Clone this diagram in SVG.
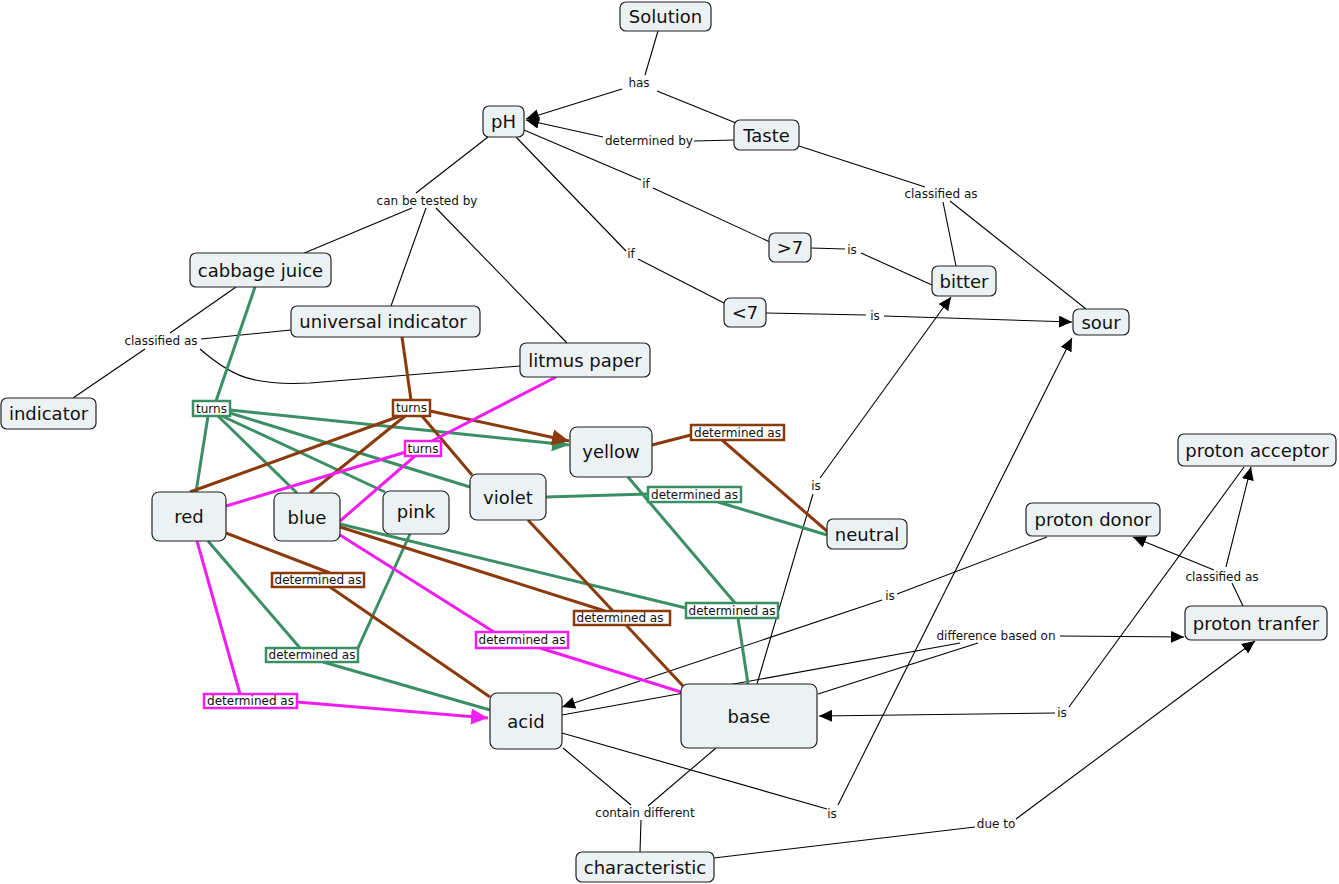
<svg xmlns="http://www.w3.org/2000/svg" width="1339" height="884" viewBox="0 0 1339 884">
<defs>
<style>
.n rect{fill:#ecf2f4;stroke:#222;stroke-width:1.2}
.n text{font-family:"DejaVu Sans",Verdana,sans-serif;font-size:18px;fill:#111;text-anchor:middle;dominant-baseline:central}
.lk{font-family:"DejaVu Sans",Verdana,sans-serif;font-size:12px;fill:#111;text-anchor:middle;dominant-baseline:central}
.k{fill:none;stroke:#000;stroke-width:1.1}
.g{fill:none;stroke:#3b8f65;stroke-width:3}
.b{fill:none;stroke:#8b3a0c;stroke-width:3}
.m{fill:none;stroke:#f01ef0;stroke-width:3}
.bx{fill:#fff;stroke-width:2.5}
</style>
<marker id="ak" markerUnits="userSpaceOnUse" markerWidth="14" markerHeight="12" refX="13" refY="6" orient="auto"><path d="M0,0 L13,6 L0,12 z" fill="#000"/></marker>
<marker id="ag" markerUnits="userSpaceOnUse" markerWidth="18" markerHeight="16" refX="17" refY="8" orient="auto"><path d="M0,0 L17,8 L0,16 z" fill="#3b8f65"/></marker>
<marker id="ab" markerUnits="userSpaceOnUse" markerWidth="18" markerHeight="16" refX="17" refY="8" orient="auto"><path d="M0,0 L17,8 L0,16 z" fill="#8b3a0c"/></marker>
<marker id="am" markerUnits="userSpaceOnUse" markerWidth="18" markerHeight="16" refX="17" refY="8" orient="auto"><path d="M0,0 L17,8 L0,16 z" fill="#f01ef0"/></marker>
</defs>
<rect width="1339" height="884" fill="#fff"/>
<g id="connectors">
<path class="k" d="M658,31 L645,75"/>
<path class="k" d="M622,89 L526,119" marker-end="url(#ak)"/>
<path class="k" d="M657,91 L736,123"/>
<path class="k" d="M735,140 L694,141"/>
<path class="k" d="M603,137 L526,120" marker-end="url(#ak)"/>
<path class="k" d="M524,130 L641,180"/>
<path class="k" d="M653,188 L770,242"/>
<path class="k" d="M516,137 L626,251"/>
<path class="k" d="M638,259 L724,303"/>
<path class="k" d="M488,137 L416,193"/>
<path class="k" d="M412,208 L302,254"/>
<path class="k" d="M426,208 L391,306"/>
<path class="k" d="M436,208 L567,343"/>
<path class="k" d="M799,146 L925,187"/>
<path class="k" d="M943,202 L956,266"/>
<path class="k" d="M950,201 L1086,309"/>
<path class="k" d="M811,248 L845,249"/>
<path class="k" d="M861,253 L932,285"/>
<path class="k" d="M766,313 L866,315"/>
<path class="k" d="M884,316 L1072,322" marker-end="url(#ak)"/>
<path class="k" d="M236,287 L170,333"/>
<path class="k" d="M145,349 L73,398"/>
<path class="k" d="M291,330 L201,339"/>
<path class="k" d="M200,349 C230,375 250,386 310,383 L520,366"/>
<path class="k" d="M757,684 L813,494"/>
<path class="k" d="M820,478 L951,297" marker-end="url(#ak)"/>
<path class="k" d="M1047,537 L897,594"/>
<path class="k" d="M882,600 L562,707" marker-end="url(#ak)"/>
<path class="k" d="M562,715 L960,643"/>
<path class="k" d="M818,694 L978,643"/>
<path class="k" d="M1060,636 L1184,637" marker-end="url(#ak)"/>
<path class="k" d="M1243,606 L1232,583"/>
<path class="k" d="M1214,570 L1133,537" marker-end="url(#ak)"/>
<path class="k" d="M1226,567 L1251,467" marker-end="url(#ak)"/>
<path class="k" d="M1244,467 L1069,707"/>
<path class="k" d="M1055,713 L819,716" marker-end="url(#ak)"/>
<path class="k" d="M562,733 L827,809"/>
<path class="k" d="M838,805 L1072,338" marker-end="url(#ak)"/>
<path class="k" d="M563,748 L631,805"/>
<path class="k" d="M716,748 L648,806"/>
<path class="k" d="M641,820 L640,852"/>
<path class="k" d="M714,858 L975,827"/>
<path class="k" d="M1016,819 L1255,641" marker-end="url(#ak)"/>
<path class="g" d="M255,287 L216,401"/>
<path class="g" d="M208,416 L196,492"/>
<path class="g" d="M218,416 L297,493"/>
<path class="g" d="M222,416 L385,492"/>
<path class="g" d="M230,413 L470,487"/>
<path class="g" d="M230,410 L569,445" marker-end="url(#ag)"/>
<path class="g" d="M546,497 L648,494"/>
<path class="g" d="M718,502 L827,535"/>
<path class="g" d="M628,477 L735,603"/>
<path class="g" d="M340,524 L686,608"/>
<path class="g" d="M738,618 L748,684"/>
<path class="g" d="M410,534 L358,648"/>
<path class="g" d="M208,541 L300,648"/>
<path class="g" d="M323,662 L490,710"/>
<path class="b" d="M402,337 L411,400"/>
<path class="b" d="M400,416 L190,492"/>
<path class="b" d="M405,416 L310,493"/>
<path class="b" d="M422,416 L472,475"/>
<path class="b" d="M430,411 L569,441" marker-end="url(#ab)"/>
<path class="b" d="M652,445 L691,435"/>
<path class="b" d="M722,440 L828,532"/>
<path class="b" d="M226,533 L330,573"/>
<path class="b" d="M330,587 L490,697"/>
<path class="b" d="M340,527 L605,611"/>
<path class="b" d="M528,520 L683,686"/>
<path class="m" d="M556,377 L432,441"/>
<path class="m" d="M406,452 L226,506"/>
<path class="m" d="M415,456 L340,521"/>
<path class="m" d="M197,541 L240,694"/>
<path class="m" d="M297,702 L488,718" marker-end="url(#am)"/>
<path class="m" d="M340,535 L494,632"/>
<path class="m" d="M540,648 L681,692"/>
</g>
<g id="labels">
<text class="lk" x="639" y="83">has</text>
<text class="lk" x="649" y="141">determined by</text>
<text class="lk" x="646" y="184">if</text>
<text class="lk" x="631" y="254">if</text>
<text class="lk" x="427" y="201">can be tested by</text>
<text class="lk" x="941" y="194">classified as</text>
<text class="lk" x="852" y="250">is</text>
<text class="lk" x="875" y="316">is</text>
<text class="lk" x="161" y="341">classified as</text>
<text class="lk" x="816" y="486">is</text>
<text class="lk" x="890" y="596">is</text>
<text class="lk" x="996" y="636">difference based on</text>
<text class="lk" x="1222" y="577">classified as</text>
<text class="lk" x="1062" y="713">is</text>
<text class="lk" x="645" y="813">contain different</text>
<text class="lk" x="832" y="814">is</text>
<text class="lk" x="996" y="824">due to</text>
<g id="lb-turns-g"><rect class="bx" x="193" y="401" width="37" height="15" stroke="#3b8f65"/><text class="lk" x="211.5" y="408.5">turns</text></g>
<g id="lb-turns-b"><rect class="bx" x="393" y="400" width="37" height="16" stroke="#8b3a0c" stroke-width="3.5"/><text class="lk" x="411.5" y="408">turns</text></g>
<g id="lb-turns-m"><rect class="bx" x="405" y="441" width="36" height="15" stroke="#f01ef0"/><text class="lk" x="423" y="448.5">turns</text></g>
<g id="lb-det1"><rect class="bx" x="691" y="425" width="93" height="15" stroke="#8b3a0c"/><text class="lk" x="737.5" y="432.5">determined as</text></g>
<g id="lb-det2"><rect class="bx" x="648" y="487" width="93" height="15" stroke="#3b8f65"/><text class="lk" x="694.5" y="494.5">determined as</text></g>
<g id="lb-det3"><rect class="bx" x="272" y="573" width="92" height="14" stroke="#8b3a0c"/><text class="lk" x="318" y="580">determined as</text></g>
<g id="lb-det4"><rect class="bx" x="266" y="648" width="92" height="14" stroke="#3b8f65"/><text class="lk" x="312" y="655">determined as</text></g>
<g id="lb-det5"><rect class="bx" x="204" y="694" width="93" height="14" stroke="#f01ef0"/><text class="lk" x="250.5" y="701">determined as</text></g>
<g id="lb-det6"><rect class="bx" x="476" y="632" width="92" height="16" stroke="#f01ef0"/><text class="lk" x="522" y="640">determined as</text></g>
<g id="lb-det7"><rect class="bx" x="574" y="611" width="96" height="14" stroke="#8b3a0c"/><text class="lk" x="620" y="618">determined as</text></g>
<g id="lb-det8"><rect class="bx" x="686" y="603" width="92" height="15" stroke="#3b8f65"/><text class="lk" x="732" y="610.5">determined as</text></g>
</g>
<g id="n-solution" class="n"><rect x="620" y="2" width="91" height="29" rx="6"/><text x="665.5" y="16.5">Solution</text></g>
<g id="n-ph" class="n"><rect x="483" y="106" width="41" height="31" rx="6"/><text x="503.5" y="121.5">pH</text></g>
<g id="n-taste" class="n"><rect x="734" y="120" width="65" height="30" rx="6"/><text x="766.5" y="135">Taste</text></g>
<g id="n-cabbage" class="n"><rect x="190" y="253" width="141" height="34" rx="6"/><text x="260.5" y="270">cabbage juice</text></g>
<g id="n-universal" class="n"><rect x="291" y="306" width="189" height="31" rx="6"/><text x="383" y="321.5">universal indicator</text></g>
<g id="n-litmus" class="n"><rect x="520" y="343" width="130" height="34" rx="6"/><text x="585" y="360">litmus paper</text></g>
<g id="n-indicator" class="n"><rect x="1" y="398" width="95" height="31" rx="6"/><text x="48.5" y="413.5">indicator</text></g>
<g id="n-gt7" class="n"><rect x="769" y="233" width="42" height="29" rx="6"/><text x="790" y="247.5">&gt;7</text></g>
<g id="n-lt7" class="n"><rect x="724" y="298" width="42" height="29" rx="6"/><text x="745" y="312.5">&lt;7</text></g>
<g id="n-bitter" class="n"><rect x="932" y="266" width="64" height="30" rx="6"/><text x="964" y="281">bitter</text></g>
<g id="n-sour" class="n"><rect x="1073" y="309" width="56" height="26" rx="6"/><text x="1101" y="322">sour</text></g>
<g id="n-red" class="n"><rect x="152" y="492" width="74" height="49" rx="7"/><text x="189" y="516.5">red</text></g>
<g id="n-blue" class="n"><rect x="274" y="493" width="66" height="48" rx="7"/><text x="307" y="517">blue</text></g>
<g id="n-pink" class="n"><rect x="383" y="491" width="66" height="43" rx="7"/><text x="416" y="511">pink</text></g>
<g id="n-violet" class="n"><rect x="470" y="474" width="76" height="46" rx="7"/><text x="508" y="497">violet</text></g>
<g id="n-yellow" class="n"><rect x="570" y="427" width="82" height="50" rx="7"/><text x="611" y="451">yellow</text></g>
<g id="n-neutral" class="n"><rect x="827" y="519" width="80" height="30" rx="6"/><text x="867" y="534">neutral</text></g>
<g id="n-acceptor" class="n"><rect x="1178" y="434" width="158" height="32" rx="6"/><text x="1257" y="450">proton acceptor</text></g>
<g id="n-donor" class="n"><rect x="1026" y="503" width="134" height="33" rx="6"/><text x="1093" y="519.5">proton donor</text></g>
<g id="n-tranfer" class="n"><rect x="1185" y="606" width="142" height="34" rx="6"/><text x="1256" y="623">proton tranfer</text></g>
<g id="n-acid" class="n"><rect x="490" y="693" width="72" height="56" rx="7"/><text x="526" y="721">acid</text></g>
<g id="n-base" class="n"><rect x="681" y="684" width="136" height="64" rx="7"/><text x="749" y="716">base</text></g>
<g id="n-characteristic" class="n"><rect x="576" y="852" width="138" height="30" rx="6"/><text x="645" y="867">characteristic</text></g>
</svg>
